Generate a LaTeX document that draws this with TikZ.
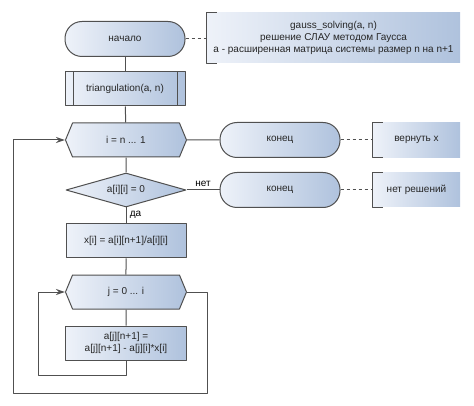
\documentclass[tikz,border=0pt]{standalone}
\usepackage{fontspec}
\setmainfont{Liberation Sans}
\usetikzlibrary{shapes.geometric,shapes.symbols,arrows.meta}
\definecolor{lineg}{HTML}{505050}
\definecolor{fillL}{HTML}{EEF2F9}
\definecolor{fillR}{HTML}{AFC2DD}
\begin{document}
\begin{tikzpicture}[x=1pt,y=-1pt,font=\fontsize{10}{12}\selectfont, line join=round, >={Stealth[length=9pt,width=6pt]},
	base/.style={draw=lineg, line width=1pt, left color=fillL, right color=fillR, align=center, inner sep=1pt, text=black!85},
	term/.style={base, rectangle, rounded corners=17pt, minimum width=120pt, minimum height=35pt},
	proc/.style={base, rectangle, minimum width=120pt, minimum height=34pt},
	subproc/.style={proc, path picture={
		\draw[lineg, line width=1pt] ([xshift=8pt]path picture bounding box.north west) -- ([xshift=8pt]path picture bounding box.south west);
		\draw[lineg, line width=1pt] ([xshift=-8pt]path picture bounding box.north east) -- ([xshift=-8pt]path picture bounding box.south east);}},
	loophex/.style={base, signal, signal to=west and east, signal pointer angle=135, minimum width=121pt, minimum height=34pt},
	cond/.style={base, diamond, aspect=3.5, minimum width=120pt, minimum height=34pt},
	note/.style={rectangle, left color=fillL, right color=fillR, align=center, inner sep=1pt, text=black!85},
	link/.style={draw=lineg, line width=1pt},
	]
	\useasboundingbox (0,0) rectangle (474,406);
	% blocks
	\node[term] (start) at (125,39) {начало};
	\node[note, minimum width=253pt, minimum height=50pt] (gauss) at (333.5,38) {gauss\_solving(a, n)\\решение СЛАУ методом Гаусса\\a - расширенная матрица системы размер n на n+1};
	\node[subproc] (tri) at (125,89) {triangulation(a, n)};
	\node[loophex] (loopi) at (126,140) {i = n ... 1};
	\node[term] (end1) at (280,140) {конец};
	\node[note, minimum width=87pt, minimum height=35pt] (ret) at (416.5,140) {вернуть x};
	\node[cond] (dz) at (126,190) {a[i][i] = 0};
	\node[term] (end2) at (280,190) {конец};
	\node[note, minimum width=87pt, minimum height=34pt] (nores) at (416.5,190) {нет решений};
	\node[proc] (xi) at (126,241) {x[i] = a[i][n+1]/a[i][i]};
	\node[loophex] (loopj) at (126,292) {j = 0 ... i};
	\node[proc, minimum width=121pt] (upd) at (126,343) {a[j][n+1] =\\a[j][n+1] - a[j][i]*x[i]};
	% brackets of the notes
	\foreach \c in {gauss,ret,nores}{
		\draw[link] ([xshift=10pt]\c.north west) -- (\c.north west) -- (\c.south west) -- ([xshift=10pt]\c.south west);}
	% flow
	\draw[link] (start) -- (tri);
	\draw[link] (tri) -- (loopi);
	\draw[link] (loopi) -- (dz);
	\draw[link] (dz) -- node[right, pos=0.45]{да} (xi);
	\draw[link] (xi) -- (loopj);
	\draw[link] (loopj) -- (upd);
	\draw[link] (loopi) -- (end1);
	\draw[link] (dz) -- node[above]{нет} (end2);
	\draw[link, dashed] (start.east) -- (start.east -| gauss.west);
	\draw[link, dashed] (end1) -- (ret);
	\draw[link, dashed] (end2) -- (nores);
	% loops back
	\coordinate (jback) at (38,375);
	\coordinate (jout) at (207,393);
	\coordinate (iback) at (13,393);
	\draw[link, ->] (upd.south) |- (jback) |- (loopj.west);
	\draw[link, ->] (loopj.east) -| (jout) -- (iback) |- (loopi.west);
\end{tikzpicture}
\end{document}
